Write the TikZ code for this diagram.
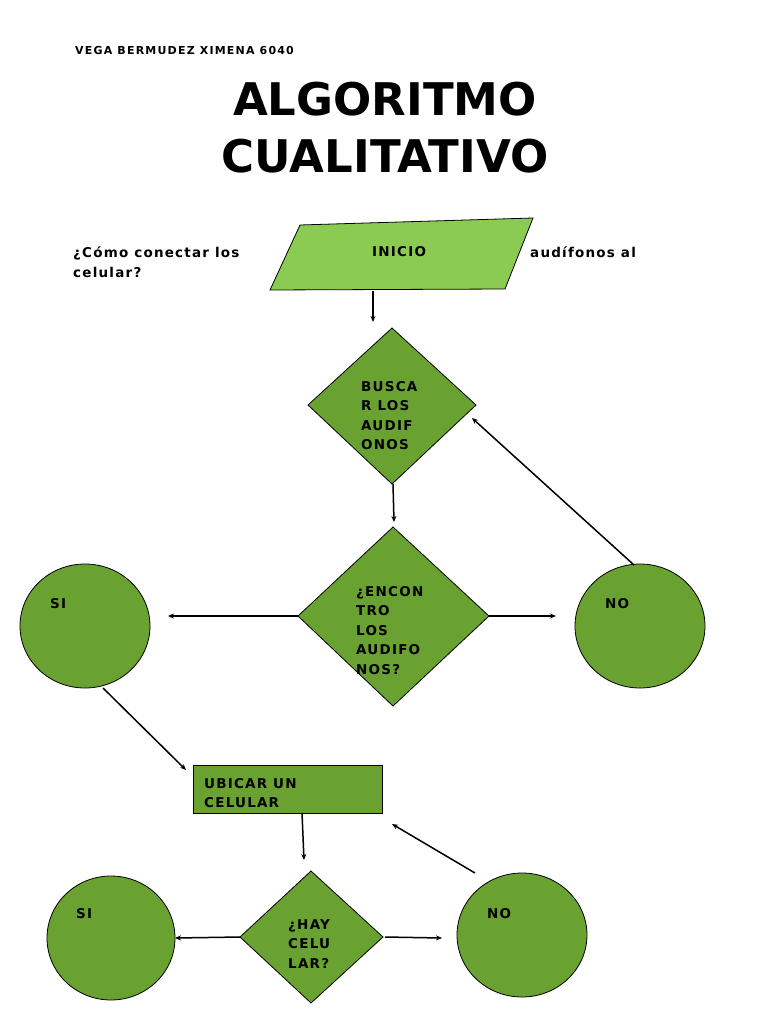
\documentclass[tikz,border=0pt]{standalone}
\usepackage{fontspec}
\setmainfont{DejaVu Sans}
\usetikzlibrary{arrows.meta}
\definecolor{lg}{HTML}{8BCB52}
\definecolor{dg}{HTML}{6AA232}
\tikzset{
  shp/.style={draw=black, line width=0.8pt},
  arr/.style={-{Stealth[length=6pt,width=5pt]}, line width=1.5pt},
  lbl/.style={font=\bfseries\fontsize{13.5}{19.5}\selectfont\addfontfeatures{LetterSpace=9}, align=left, anchor=north west, inner sep=0pt},
}
\begin{document}
\begin{tikzpicture}[x=1pt,y=-1pt]
\useasboundingbox (0,0) rectangle (768,1024);
\node[anchor=west, inner sep=0pt, font=\bfseries\fontsize{11}{13}\selectfont\addfontfeatures{LetterSpace=11}] (hdr) at (75,50) {VEGA BERMUDEZ XIMENA 6040};
\node[font=\bfseries\fontsize{45}{57}\selectfont, align=center] (title) at (385,128) {ALGORITMO\\CUALITATIVO};
% parallelogram
\draw[shp, fill=lg] (300,225) -- (533,218) -- (505,289) -- (270,290) -- cycle;
\node[lbl] (inicio) at (372,246) {INICIO};
\node[lbl] (q1) at (73,247) {¿Cómo conectar los\\celular?};
\node[lbl] (q2) at (530,247) {audífonos al};
% diamond 1
\draw[shp, fill=dg] (392,328) coordinate (D1t) -- (476,405) coordinate (D1r) -- (392,484) coordinate (D1b) -- (308,405) coordinate (D1l) -- cycle;
\node[lbl] (t1) at (361,381) {BUSCA\\R LOS\\AUDIF\\ONOS};
% diamond 2
\draw[shp, fill=dg] (393,527) coordinate (D2t) -- (489,616) coordinate (D2r) -- (393,706) coordinate (D2b) -- (298,616) coordinate (D2l) -- cycle;
\node[lbl] (t2) at (356,586) {¿ENCON\\TRO\\LOS\\AUDIFO\\NOS?};
% circles
\draw[shp, fill=dg] (85,626) ellipse [x radius=65, y radius=62];
\node[lbl] (si1) at (50,598) {SI};
\draw[shp, fill=dg] (640,626) ellipse [x radius=65, y radius=62];
\node[lbl] (no1) at (605,598) {NO};
% rectangle
\draw[shp, fill=dg] (193,765) rectangle (382,813);
\node[lbl] (ub) at (204,778) {UBICAR UN\\CELULAR};
% diamond 3
\draw[shp, fill=dg] (311,871) -- (383,937) -- (311,1003) -- (240,937) -- cycle;
\node[lbl] (t3) at (288,919) {¿HAY\\CELU\\LAR?};
\draw[shp, fill=dg] (111,938) ellipse [x radius=64, y radius=62];
\node[lbl] (si2) at (76,908) {SI};
\draw[shp, fill=dg] (522,935) ellipse [x radius=65, y radius=62];
\node[lbl] (no2) at (487,908) {NO};
% arrows
\coordinate (a1s) at (373,291); \coordinate (a1e) at (373,322);
\draw[arr] (a1s) -- (a1e);
\coordinate (a2s) at (393,484); \coordinate (a2e) at (394,522);
\draw[arr] (a2s) -- (a2e);
\coordinate (a3e) at (168,616); \draw[arr] (D2l) -- (a3e);
\coordinate (a4e) at (556,616); \draw[arr] (D2r) -- (a4e);
\coordinate (a5s) at (634,565); \coordinate (a5e) at (472,418);
\draw[arr] (a5s) -- (a5e);
\coordinate (a6s) at (103,688); \coordinate (a6e) at (186,770);
\draw[arr] (a6s) -- (a6e);
\coordinate (a7s) at (302,813); \coordinate (a7e) at (304,860);
\draw[arr] (a7s) -- (a7e);
\coordinate (a8s) at (240,937); \coordinate (a8e) at (175,938);
\draw[arr] (a8s) -- (a8e);
\coordinate (a9s) at (385,937); \coordinate (a9e) at (442,938);
\draw[arr] (a9s) -- (a9e);
\coordinate (a10s) at (475,873); \coordinate (a10e) at (392,824);
\draw[arr] (a10s) -- (a10e);
\end{tikzpicture}
\end{document}
